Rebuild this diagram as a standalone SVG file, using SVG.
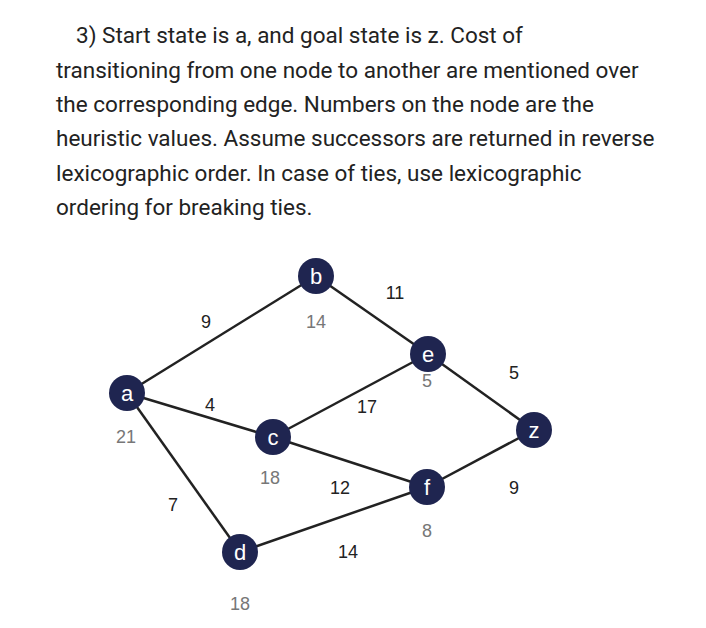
<svg xmlns="http://www.w3.org/2000/svg" width="706" height="628" viewBox="0 0 706 628">
<style>
.q{font-family:Roboto,"Liberation Sans",sans-serif;font-size:22.5px;fill:#222}
.n circle{fill:#1f2550}
.n text{font-family:"Liberation Sans",sans-serif;font-size:22px;fill:#fff;text-anchor:middle}
.l{font-family:"Liberation Sans",sans-serif;font-size:18px;fill:#222;text-anchor:middle}
.h{font-family:"Liberation Sans",sans-serif;font-size:18px;fill:#777;text-anchor:middle}
#edges line{stroke:#222;stroke-width:2.5}
</style>
<rect width="706" height="628" fill="#fff"/>
<text class="q" x="76" y="43">3) Start state is a, and goal state is z. Cost of</text>
<text class="q" x="56" y="78">transitioning from one node to another are mentioned over</text>
<text class="q" x="56" y="112">the corresponding edge. Numbers on the node are the</text>
<text class="q" x="56" y="146">heuristic values. Assume successors are returned in reverse</text>
<text class="q" x="56" y="181">lexicographic order. In case of ties, use lexicographic</text>
<text class="q" x="56" y="215">ordering for breaking ties.</text>
<g id="edges">
<line x1="127" y1="393" x2="316" y2="276"/>
<line x1="316" y1="276" x2="428" y2="354"/>
<line x1="127" y1="393" x2="273" y2="437"/>
<line x1="127" y1="393" x2="240" y2="552"/>
<line x1="273" y1="437" x2="428" y2="354"/>
<line x1="273" y1="437" x2="427" y2="487"/>
<line x1="240" y1="552" x2="427" y2="487"/>
<line x1="428" y1="354" x2="534" y2="430"/>
<line x1="427" y1="487" x2="534" y2="430"/>
</g>
<g id="a" class="n"><circle cx="127" cy="393" r="18"/><text x="127" y="401">a</text></g>
<g id="b" class="n"><circle cx="316" cy="276" r="18"/><text x="316" y="284">b</text></g>
<g id="c" class="n"><circle cx="273" cy="437" r="18"/><text x="273" y="445">c</text></g>
<g id="d" class="n"><circle cx="240" cy="552" r="18"/><text x="240" y="560">d</text></g>
<g id="e" class="n"><circle cx="428" cy="354" r="18"/><text x="428" y="362">e</text></g>
<g id="f" class="n"><circle cx="427" cy="487" r="18"/><text x="427" y="495">f</text></g>
<g id="z" class="n"><circle cx="534" cy="430" r="18"/><text x="534" y="438">z</text></g>
<g id="labels">
<text class="l" x="206" y="328">9</text>
<text class="l" x="395" y="299">11</text>
<text class="l" x="210" y="411">4</text>
<text class="l" x="367" y="413">17</text>
<text class="l" x="514" y="379">5</text>
<text class="l" x="340" y="494">12</text>
<text class="l" x="173" y="511">7</text>
<text class="l" x="514" y="494">9</text>
<text class="l" x="348" y="558">14</text>
<text class="h" x="316" y="328">14</text>
<text class="h" x="126" y="443">21</text>
<text class="h" x="270" y="484">18</text>
<text class="h" x="240" y="610">18</text>
<text class="h" x="427" y="387">5</text>
<text class="h" x="427" y="537">8</text>
</g>
</svg>
